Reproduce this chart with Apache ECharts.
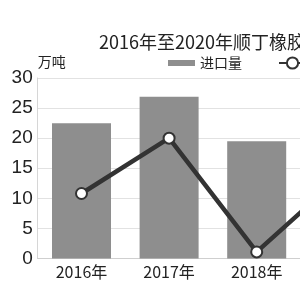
<!DOCTYPE html>
<html><head><meta charset="utf-8">
<script src="https://cdn.jsdelivr.net/npm/echarts@6/dist/echarts.min.js"></script>
<style>html,body{margin:0;padding:0;width:300px;height:300px;overflow:hidden;background:#fff}#c{width:420px;height:300px}</style>
</head><body><div id="c"></div>
<script>
var years = ['2016年','2017年','2018年','2019年'];
var importVals = [22.5, 26.9, 19.5, null];
var lineVals = [10.8, 20.0, 1.1, 14.2];
var yTicks = [0, 5, 10, 15, 20, 25, 30];
var titleText = '2016年至2020年顺丁橡胶进出口情况';
var unitText = '万吨';
var barName = '进口量';
var lineName = '出口量';

var font = '"Noto Sans CJK SC","Liberation Sans",sans-serif';
var chart = echarts.init(document.getElementById('c'));
chart.setOption({
  backgroundColor: '#fff',
  animation: false,
  title: { text: titleText, left: 94, top: 28,
    textStyle: { fontSize: 18, fontWeight: 'normal', color: '#222', fontFamily: font } },
  legend: { left: 163, top: 51, itemWidth: 27, itemHeight: 14, itemGap: 36,
    textStyle: { fontSize: 14, color: '#222', fontFamily: font },
    data: [
      { name: barName, icon: 'path://M0,0H27V6H0Z' },
      { name: lineName }
    ] },
  grid: { left: 37.7, top: 78, width: 350.4, bottom: 41.5, containLabel: false },
  xAxis: { type: 'category', data: years,
    axisLine: { show: true, lineStyle: { color: '#cfcfcf', width: 1 } },
    axisTick: { show: false },
    axisLabel: { fontSize: 16, color: '#222', margin: 5, fontFamily: font } },
  yAxis: { type: 'value', min: yTicks[0], max: yTicks[yTicks.length-1], interval: 5,
    name: unitText, nameLocation: 'end', nameGap: 1,
    nameTextStyle: { fontSize: 14, color: '#222', align: 'left', fontFamily: font },
    axisLine: { show: true, lineStyle: { color: '#d6d6d6', width: 1 } },
    axisTick: { show: false },
    axisLabel: { fontSize: 19, color: '#222', margin: 5, fontFamily: '"Liberation Sans",sans-serif' },
    splitLine: { show: true, lineStyle: { color: '#e2e2e2', width: 1 } } },
  series: [
    { name: barName, type: 'bar', data: importVals, barWidth: 59,
      itemStyle: { color: '#8e8e8e' } },
    { name: lineName, type: 'line', data: lineVals, z: 5,
      symbol: 'circle', symbolSize: 11, showAllSymbol: true,
      lineStyle: { color: '#333', width: 4.5 },
      itemStyle: { color: '#fff', borderColor: '#333', borderWidth: 2 } }
  ]
});
</script></body></html>
